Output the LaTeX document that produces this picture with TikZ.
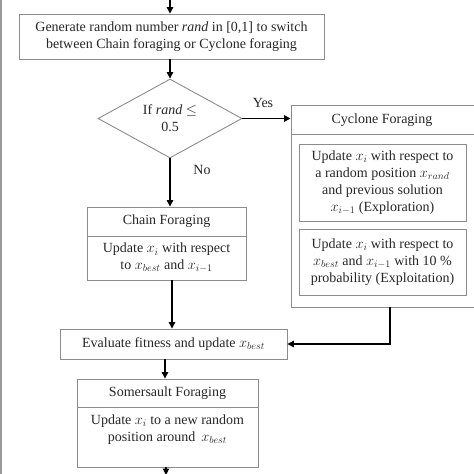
\documentclass[tikz,border=0pt]{standalone}
\usepackage{fontspec}
\setmainfont{Liberation Serif}
\usetikzlibrary{shapes.geometric,arrows.meta}
\definecolor{boxgray}{HTML}{8C8C8C}
\definecolor{textc}{HTML}{262626}
\definecolor{edgegray}{HTML}{9A9A9A}
\begin{document}
\begin{tikzpicture}[x=1pt,y=-1pt,
  txt/.style={text=textc, font=\fontsize{14}{16.8}\selectfont, align=center},
  box/.style={txt, draw=boxgray, line width=0.9pt, rectangle, inner sep=0pt, anchor=center},
  arr/.style={-{Triangle[length=6.5pt,width=6.5pt]}, line width=1.2pt, black},
  plain/.style={line width=1.2pt, black}]
\useasboundingbox (0,0) rectangle (474,474);
\fill[edgegray] (0,0) rectangle (2.2,474);

% top generate box
\coordinate (top) at (170,-2);
\node[box, minimum width=305pt, minimum height=45pt] (gen) at (171.5,36.5)
  {Generate random number \textit{rand} in [0,1] to switch\\between Chain foraging or Cyclone foraging};

% decision
\node[txt, diamond, draw=boxgray, line width=0.9pt, shape aspect=1.8, inner sep=0pt,
  minimum width=144pt, minimum height=79pt] (dec) at (170,118.5) {If \textit{rand} $\le$\\0.5};
\node[txt] (yes) at (263,103) {Yes};
\node[txt] (no) at (202,170) {No};

% cyclone foraging
\node[box, minimum width=185pt, minimum height=202pt] (cyc) at (383.5,206) {};
\node[txt] (cyct) at (382,120) {Cyclone Foraging};
\coordinate (cycdl) at (291,134);
\coordinate (cycdr) at (476,134);
\draw[boxgray, line width=0.9pt] (cycdl) -- (cycdr);
\node[box, minimum width=167pt, minimum height=77pt] (cyc1) at (382.5,182.5)
  {Update $x_i$ with respect to\\a random position $x_{rand}$\\and previous solution\\$x_{i-1}$ (Exploration)};
\node[box, minimum width=167pt, minimum height=66pt] (cyc2) at (382.5,262)
  {Update $x_i$ with respect to\\$x_{best}$ and $x_{i-1}$ with 10 \%\\probability (Exploitation)};
\coordinate (cycout) at (390,307);

% chain foraging
\node[box, minimum width=159pt, minimum height=29pt] (chT) at (166.5,221.5) {Chain Foraging};
\node[box, minimum width=159pt, minimum height=44pt] (chB) at (166.5,258)
  {Update $x_i$ with respect\\to $x_{best}$ and $x_{i-1}$};

% evaluate
\node[box, minimum width=227pt, minimum height=30pt] (ev) at (173.5,344)
  {Evaluate fitness and update $x_{best}$};

% somersault
\node[box, minimum width=181pt, minimum height=28pt] (soT) at (167.5,393) {Somersault Foraging};
\node[box, minimum width=181pt, minimum height=60pt, text depth=18pt] (soB) at (167.5,437)
  {Update $x_i$ to a new random\\position around\, $x_{best}$};
\coordinate (bot) at (166,475);

% connectors
\draw[arr] (top) -- (gen.north -| top);
\draw[arr] (gen.south -| dec.north) -- (dec.north);
\draw[arr] (dec.east) -- (dec.east -| cyc.west);
\draw[arr] (dec.south) -- (dec.south |- chT.north);
\draw[arr] (chB.south -| 172,0) -- (ev.north -| 172,0);
\draw[arr] (cycout) |- (ev.east);
\draw[arr] (ev.south -| 165,0) -- (soT.north -| 165,0);
\draw[arr] (soB.south -| bot) -- (bot);
\end{tikzpicture}
\end{document}
